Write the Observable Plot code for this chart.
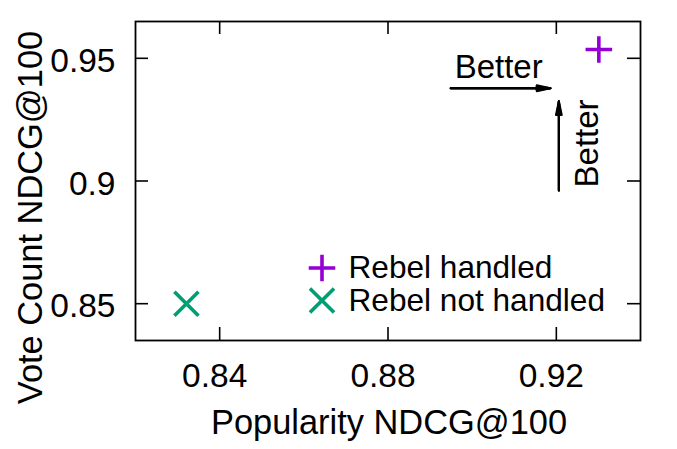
<!DOCTYPE html>
<html><head><meta charset="utf-8">
<script src="https://cdn.jsdelivr.net/npm/d3@7"></script>
<script src="https://cdn.jsdelivr.net/npm/@observablehq/plot@0.6"></script>
<style>
html,body{margin:0;padding:0;background:#fff;}
</style></head><body><div id="chart"></div>
<script>
// ---- data ----
const seriesNames = ["Rebel handled", "Rebel not handled"];
const seriesSymbols = ["plus", "times"];
const seriesColors = ["#9400D3", "#009E73"];
const popularity = [0.9301, 0.8321];   // x: Popularity NDCG@100
const voteCount = [0.9536, 0.8500];    // y: Vote Count NDCG@100
const xTicks = [0.84, 0.88, 0.92];
const xTickLabels = ["0.84", "0.88", "0.92"];
const yTicks = [0.85, 0.9, 0.95];
const yTickLabels = ["0.85", "0.9", "0.95"];
const xDomain = [0.82, 0.94];
const yDomain = [0.835, 0.965];
const xLabel = "Popularity NDCG@100";
const yLabel = "Vote Count NDCG@100";
// annotations ("Better" arrows), in data units
const arrowX1 = [0.8949, 0.9206];
const arrowY1 = [0.9378, 0.8961];
const arrowX2 = [0.9186, 0.9206];
const arrowY2 = [0.9378, 0.9325];
const noteText = ["Better", "Better"];
const noteX = [0.9063, 0.9273];
const noteY = [0.9463, 0.9153];
const noteRotate = [0, -90];

// ---- layout ----
const W = 677, H = 449, mT = 21, mR = 37, mB = 109, mL = 135;
const innerW = W - mL - mR, innerH = H - mT - mB;
const tickLen = 13;
const FS_TICK = 33.5, FS_AXIS = 34.4, FS_LEGEND = 31.6, FS_NOTE = 33;
const symR = {plus: 8.6, times: 11};
const legendSymX = 321.5, legendTextX = 348, legendTop = 267.5, legendRow = 32.5;

const points = seriesNames.map((name, i) => ({name, x: popularity[i], y: voteCount[i], symbol: seriesSymbols[i], color: seriesColors[i]}));
const arrows = arrowX1.map((d, i) => ({x1: arrowX1[i], y1: arrowY1[i], x2: arrowX2[i], y2: arrowY2[i]}));
const notes = noteText.map((t, i) => ({text: t, x: noteX[i], y: noteY[i], rotate: noteRotate[i]}));

const marks = [
  Plot.frame({strokeWidth: 1.8}),
  Plot.tickX(xTicks, {x: d => d, insetTop: innerH - tickLen, strokeWidth: 1.6}),
  Plot.tickX(xTicks, {x: d => d, insetBottom: innerH - tickLen, strokeWidth: 1.6}),
  Plot.tickY(yTicks, {y: d => d, insetRight: innerW - tickLen, strokeWidth: 1.6}),
  Plot.tickY(yTicks, {y: d => d, insetLeft: innerW - tickLen, strokeWidth: 1.6}),
  Plot.axisX(xTicks, {tickSize: 0, tickPadding: 23, dx: -5, tickFormat: d => xTickLabels[xTicks.indexOf(d)], label: null, fontSize: FS_TICK}),
  Plot.axisY(yTicks, {tickSize: 0, tickPadding: 20, dy: 3, tickFormat: d => yTickLabels[yTicks.indexOf(d)], label: null, fontSize: FS_TICK}),
  Plot.text([xLabel], {frameAnchor: "bottom", dx: 1, dy: 69, lineAnchor: "top", textAnchor: "middle", text: d => d, fontSize: FS_AXIS}),
  Plot.text([yLabel], {frameAnchor: "left", dx: -105, dy: 36.5, rotate: -90, textAnchor: "middle", lineAnchor: "middle", text: d => d, fontSize: FS_AXIS}),
];
for (const a of [24, 16, 8, 0]) {
  marks.push(Plot.arrow(arrows, {x1: "x1", y1: "y1", x2: "x2", y2: "y2", stroke: "black", strokeWidth: 2, headLength: 10.5, headAngle: a}));
}
marks.push(Plot.text(notes, {x: "x", y: "y", text: "text", rotate: "rotate", fontSize: FS_NOTE, fill: "black"}));
for (const p of points) {
  marks.push(Plot.dot([p], {x: "x", y: "y", symbol: p.symbol, stroke: p.color, r: symR[p.symbol], strokeWidth: 3.6}));
}
points.forEach((p, i) => {
  marks.push(Plot.dot([p], {frameAnchor: "top-left", dx: legendSymX - mL, dy: legendTop + i * legendRow - mT, symbol: p.symbol, stroke: p.color, r: symR[p.symbol], strokeWidth: 3.6}));
  marks.push(Plot.text([p], {frameAnchor: "top-left", dx: legendTextX - mL, dy: legendTop + i * legendRow - mT, text: "name", textAnchor: "start", lineAnchor: "middle", fontSize: FS_LEGEND, fill: "black"}));
});

const chart = Plot.plot({
  width: W, height: H,
  marginTop: mT, marginRight: mR, marginBottom: mB, marginLeft: mL,
  x: {domain: xDomain},
  y: {domain: yDomain},
  style: {fontFamily: "'Liberation Sans', Arial, sans-serif", fontSize: "32px", background: "#fff", color: "black"},
  marks
});
document.getElementById("chart").appendChild(chart);
</script></body></html>
